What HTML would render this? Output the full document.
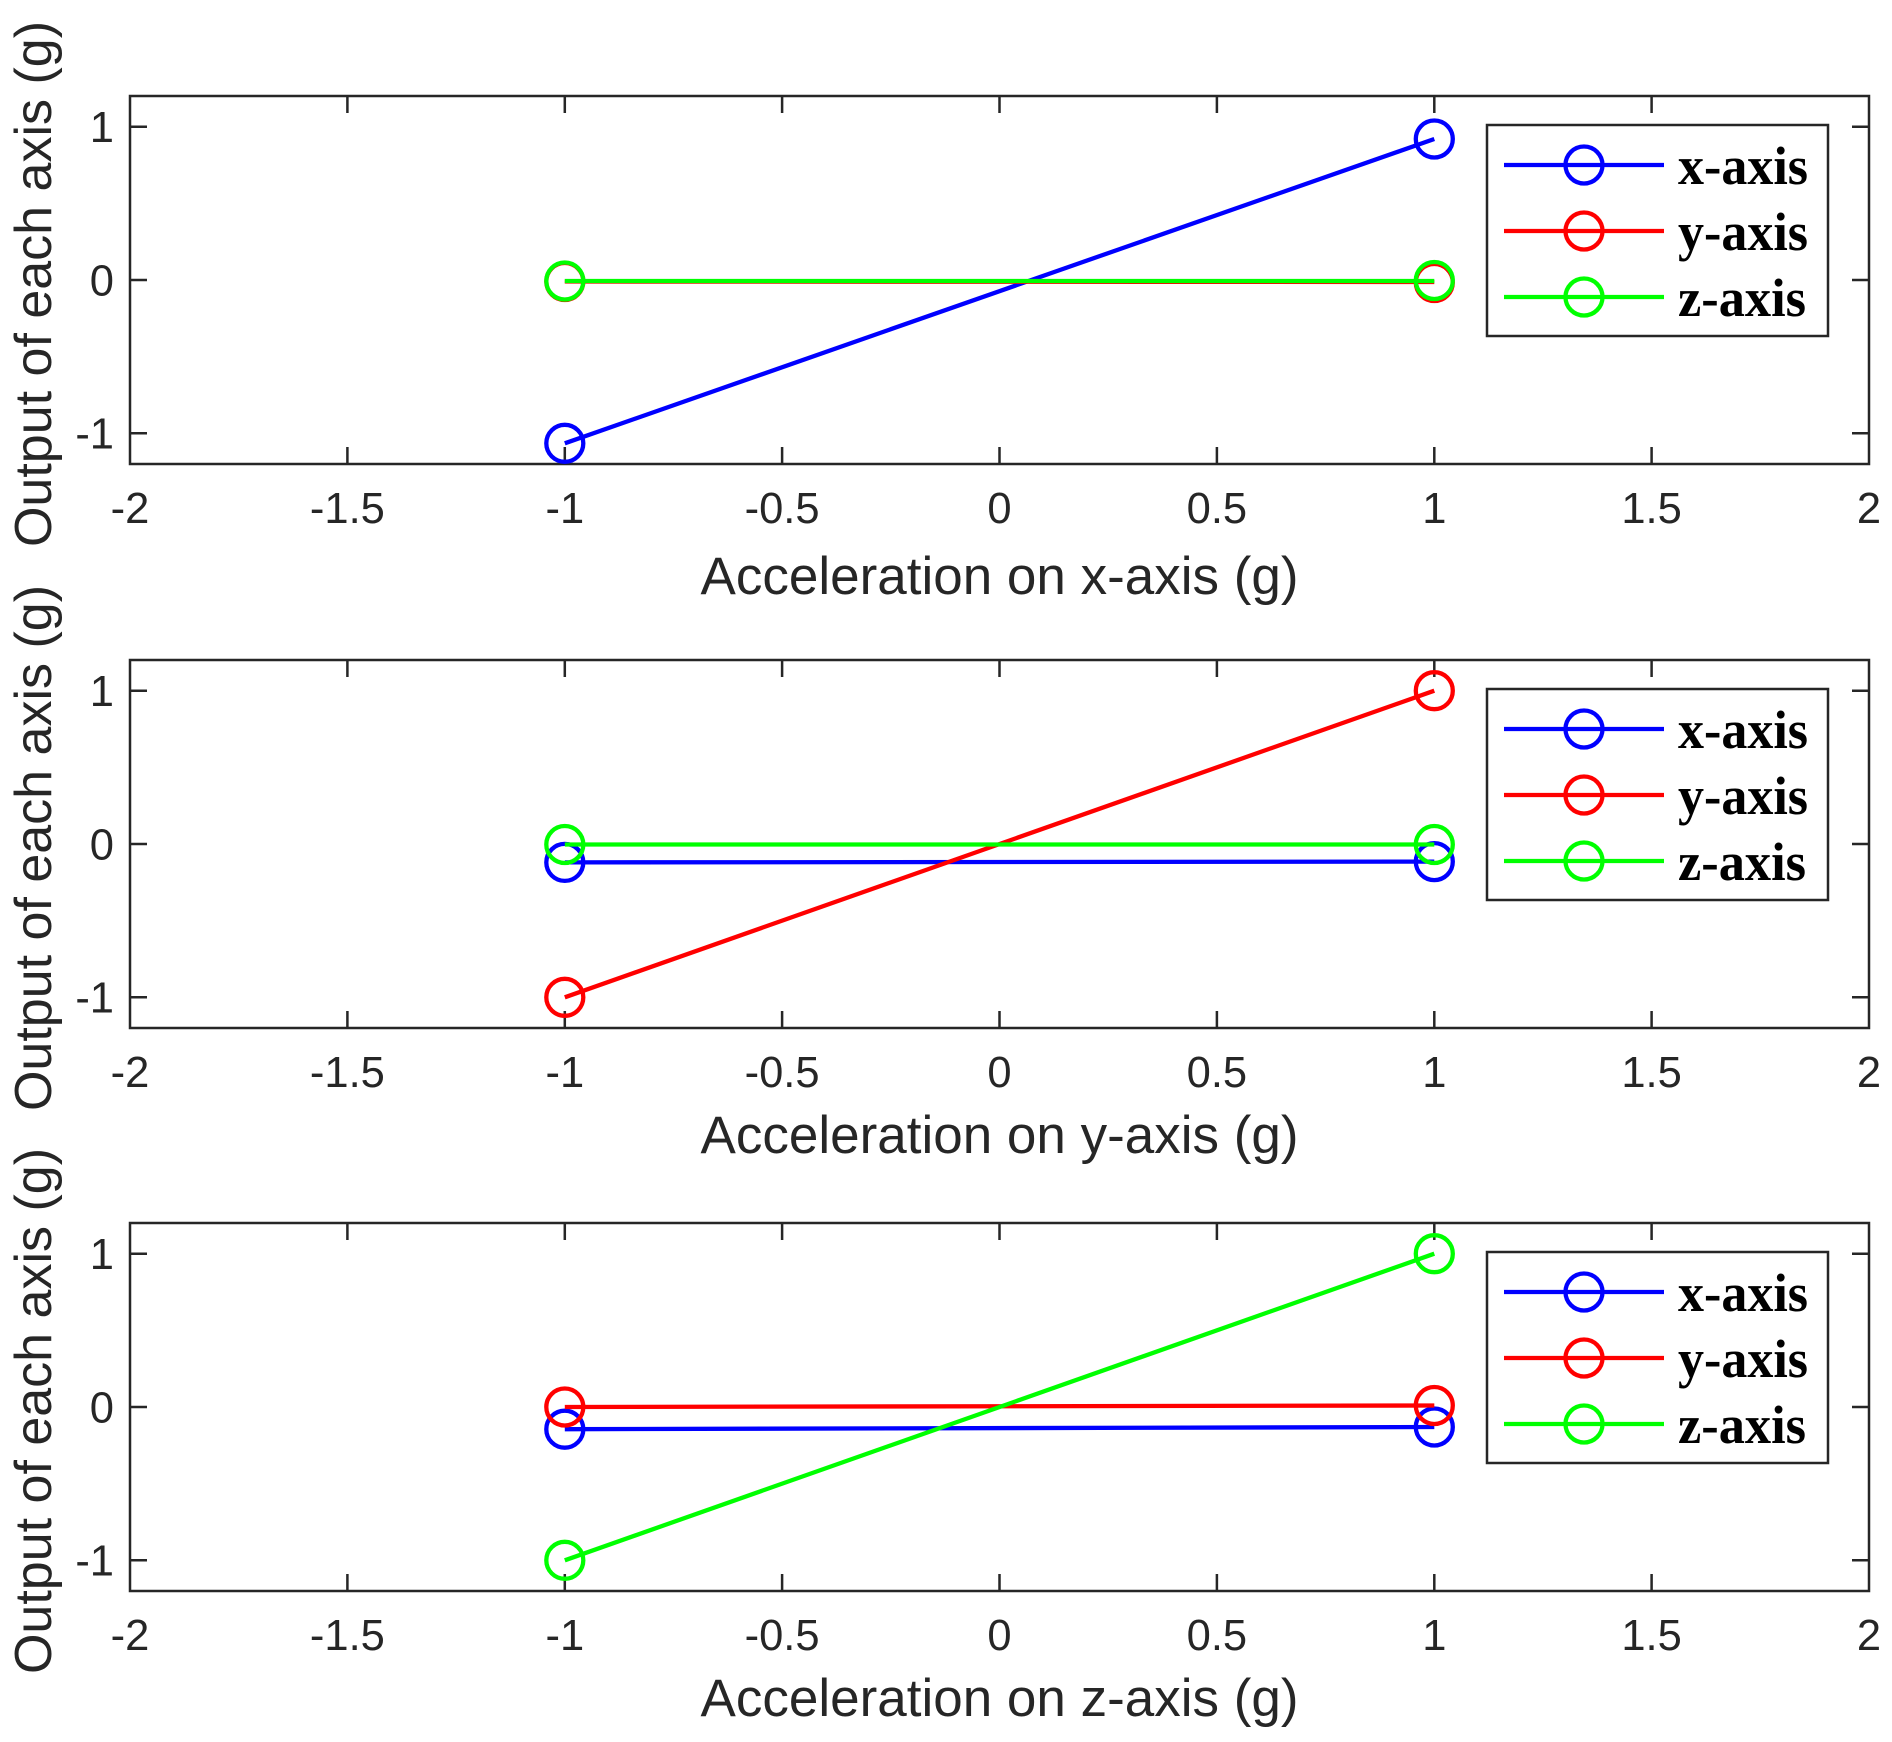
<!DOCTYPE html>
<html><head><meta charset="utf-8"><style>html,body{margin:0;padding:0;background:#fff}svg{display:block}</style></head>
<body>
<svg width="1892" height="1742" viewBox="0 0 1892 1742" xmlns="http://www.w3.org/2000/svg">
<defs>
<g id="axes">
  <rect x="130" y="0" width="1739" height="368" fill="none" stroke="#262626" stroke-width="2.5"/>
  <g stroke="#262626" stroke-width="2.5">
    <path d="M347.4 0v17M564.8 0v17M782.1 0v17M999.5 0v17M1216.9 0v17M1434.3 0v17M1651.6 0v17"/>
    <path d="M347.4 368v-17M564.8 368v-17M782.1 368v-17M999.5 368v-17M1216.9 368v-17M1434.3 368v-17M1651.6 368v-17"/>
    <path d="M130 30.7h17M130 184h17M130 337.3h17M1869 30.7h-17M1869 184h-17M1869 337.3h-17"/>
  </g>
  <g font-family="Liberation Sans, Arial, sans-serif" font-size="43.5" fill="#262626">
    <g text-anchor="end"><text x="114" y="46">1</text><text x="114" y="199.5">0</text><text x="114" y="352.5">-1</text></g>
    <g text-anchor="middle">
      <text x="130" y="427">-2</text><text x="347.4" y="427">-1.5</text><text x="564.8" y="427">-1</text>
      <text x="782.1" y="427">-0.5</text><text x="999.5" y="427">0</text><text x="1216.9" y="427">0.5</text>
      <text x="1434.3" y="427">1</text><text x="1651.6" y="427">1.5</text><text x="1869" y="427">2</text>
    </g>
  </g>
  <text transform="translate(51,188) rotate(-90)" text-anchor="middle" font-family="Liberation Sans, Arial, sans-serif" font-size="52" fill="#262626">Output of each axis (g)</text>
</g>
<g id="legend">
  <rect x="1487" y="29" width="341" height="211" fill="#fff" stroke="#262626" stroke-width="2.5"/>
  <g stroke-width="4.3" fill="none">
    <path d="M1504 69h160" stroke="#0000ff"/><circle cx="1584" cy="69" r="18.5" stroke="#0000ff"/>
    <path d="M1504 135h160" stroke="#ff0000"/><circle cx="1584" cy="135" r="18.5" stroke="#ff0000"/>
    <path d="M1504 201h160" stroke="#00ff00"/><circle cx="1584" cy="201" r="18.5" stroke="#00ff00"/>
  </g>
  <g font-family="Liberation Serif, 'Times New Roman', serif" font-weight="bold" font-size="54" fill="#000">
    <text x="1678" y="88" textLength="130" lengthAdjust="spacingAndGlyphs">x-axis</text>
    <text x="1678" y="154" textLength="130" lengthAdjust="spacingAndGlyphs">y-axis</text>
    <text x="1678" y="220" textLength="128" lengthAdjust="spacingAndGlyphs">z-axis</text>
  </g>
</g>
</defs>

<g transform="translate(0,96)">
  <use href="#axes"/>
  <g stroke-width="4.3" fill="none">
    <path d="M564.8 347.3L1434.3 43" stroke="#0000ff"/>
    <circle cx="564.8" cy="347.3" r="18.5" stroke="#0000ff"/><circle cx="1434.3" cy="43" r="18.5" stroke="#0000ff"/>
    <path d="M564.8 185.5L1434.3 186" stroke="#ff0000"/>
    <circle cx="564.8" cy="185.5" r="18.5" stroke="#ff0000"/><circle cx="1434.3" cy="186.5" r="18.5" stroke="#ff0000"/>
    <path d="M564.8 185L1434.3 185" stroke="#00ff00"/>
    <circle cx="564.8" cy="185" r="18.5" stroke="#00ff00"/><circle cx="1434.3" cy="184.5" r="18.5" stroke="#00ff00"/>
  </g>
  <use href="#legend"/>
  <text x="999.5" y="498" text-anchor="middle" font-family="Liberation Sans, Arial, sans-serif" font-size="53" fill="#262626">Acceleration on x-axis (g)</text>
</g>

<g transform="translate(0,660)">
  <use href="#axes"/>
  <g stroke-width="4.3" fill="none">
    <path d="M564.8 202.4L1434.3 201.6" stroke="#0000ff"/>
    <circle cx="564.8" cy="202.4" r="18.5" stroke="#0000ff"/><circle cx="1434.3" cy="201.6" r="18.5" stroke="#0000ff"/>
    <path d="M564.8 337.3L1434.3 30.7" stroke="#ff0000"/>
    <circle cx="564.8" cy="337.3" r="18.5" stroke="#ff0000"/><circle cx="1434.3" cy="30.7" r="18.5" stroke="#ff0000"/>
    <path d="M564.8 184.5L1434.3 184.5" stroke="#00ff00"/>
    <circle cx="564.8" cy="184.5" r="18.5" stroke="#00ff00"/><circle cx="1434.3" cy="184.5" r="18.5" stroke="#00ff00"/>
  </g>
  <use href="#legend"/>
  <text x="999.5" y="493" text-anchor="middle" font-family="Liberation Sans, Arial, sans-serif" font-size="53" fill="#262626">Acceleration on y-axis (g)</text>
</g>

<g transform="translate(0,1223)">
  <use href="#axes"/>
  <g stroke-width="4.3" fill="none">
    <path d="M564.8 206.2L1434.3 204" stroke="#0000ff"/>
    <circle cx="564.8" cy="206.2" r="18.5" stroke="#0000ff"/><circle cx="1434.3" cy="204" r="18.5" stroke="#0000ff"/>
    <path d="M564.8 184L1434.3 182.5" stroke="#ff0000"/>
    <circle cx="564.8" cy="184" r="18.5" stroke="#ff0000"/><circle cx="1434.3" cy="182.5" r="18.5" stroke="#ff0000"/>
    <path d="M564.8 337.3L1434.3 30.7" stroke="#00ff00"/>
    <circle cx="564.8" cy="337.3" r="18.5" stroke="#00ff00"/><circle cx="1434.3" cy="30.7" r="18.5" stroke="#00ff00"/>
  </g>
  <use href="#legend"/>
  <text x="999.5" y="493" text-anchor="middle" font-family="Liberation Sans, Arial, sans-serif" font-size="53" fill="#262626">Acceleration on z-axis (g)</text>
</g>
</svg>
</body></html>
